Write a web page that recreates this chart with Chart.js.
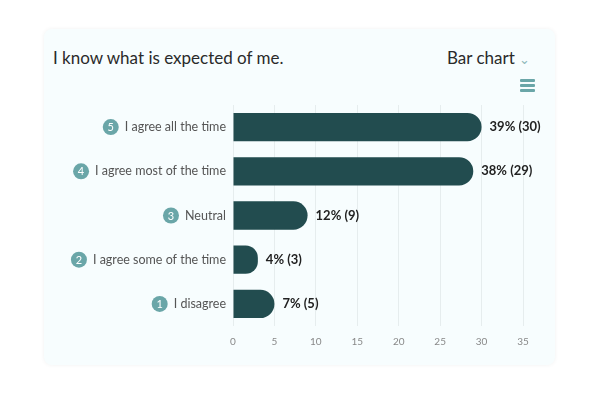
<!DOCTYPE html>
<html><head><meta charset="utf-8">
<script src="https://cdn.jsdelivr.net/npm/chart.js@4"></script>
<style>
body{margin:0;width:600px;height:404px;background:#fff;font-family:Lato,"Open Sans",sans-serif;position:relative;overflow:hidden}
#card{position:absolute;left:44px;top:29px;width:511px;height:336px;background:#f7fdfe;border-radius:8px;box-shadow:0 0 4px rgba(0,0,0,0.06)}
#title{position:absolute;left:53px;top:47px;font-size:17px;color:#2a2a2a}
#sel{position:absolute;left:447px;top:47px;font-size:17px;color:#2a2a2a}
#sel span{color:#8fb8ba;font-size:13px;margin-left:4px}
#menu{position:absolute;left:520px;top:79px;width:15px}
#menu div{height:2.5px;background:#6aa6a8;margin-bottom:2.5px;border-radius:1px}
canvas{position:absolute;left:0;top:0}
</style></head><body>
<div id="card"></div>
<div id="title">I know what is expected of me.</div>
<div id="sel">Bar chart<span>&#8964;</span></div>
<div id="menu"><div></div><div></div><div></div></div>
<canvas id="c" width="600" height="404"></canvas>
<script>
const categories=["I agree all the time","I agree most of the time","Neutral","I agree some of the time","I disagree"];
const numbers=["5","4","3","2","1"];
const counts=[30,29,9,3,5];
const percents=[39,38,12,4,7];
const xTicks=[0,5,10,15,20,25,30,35];
const LF='12.5px Lato, "Open Sans", sans-serif';
const extras={id:'extras',afterDatasetsDraw(chart){
  const ctx=chart.ctx, y=chart.scales.y, meta=chart.getDatasetMeta(0);
  ctx.save();
  ctx.font='bold 13px Lato, "Open Sans", sans-serif';ctx.fillStyle='#222';ctx.textBaseline='middle';ctx.textAlign='left';
  meta.data.forEach((b,i)=>{ctx.fillText(percents[i]+'% ('+counts[i]+')',b.x+8,b.y);});
  categories.forEach((c,i)=>{
    ctx.font=LF;
    const py=y.getPixelForValue(i);const w=ctx.measureText(c).width;
    const cx=y.right-7-w-14;
    ctx.beginPath();ctx.arc(cx,py,8,0,Math.PI*2);ctx.fillStyle='#6aa6a8';ctx.fill();
    ctx.fillStyle='#fff';ctx.textAlign='center';ctx.font='11px Lato, sans-serif';ctx.fillText(numbers[i],cx,py+0.5);
  });
  ctx.restore();
}};
new Chart(document.getElementById('c'),{
  type:'bar',
  data:{labels:categories,datasets:[{data:counts,backgroundColor:'#224c4f',borderWidth:0,
    borderRadius:{topRight:15,bottomRight:15},borderSkipped:'start',barPercentage:0.64,categoryPercentage:1}]},
  options:{indexAxis:'y',responsive:false,animation:false,
    layout:{padding:{left:0,right:77,top:105,bottom:46}},
    plugins:{legend:{display:false},tooltip:{enabled:false}},
    scales:{
      x:{min:0,max:35,afterBuildTicks(s){s.ticks=xTicks.map(v=>({value:v}));},
        grid:{color:'#e6edee',drawTicks:false},border:{display:false},
        ticks:{padding:10,color:'#888',font:{size:10,family:'Lato'}}},
      y:{afterFit(s){s.width=233;},grid:{display:false,drawTicks:false},border:{display:false},
        ticks:{padding:7,color:'#555',font:{size:12.5,family:'Lato'}}}
    }},
  plugins:[extras]
});
</script></body></html>
